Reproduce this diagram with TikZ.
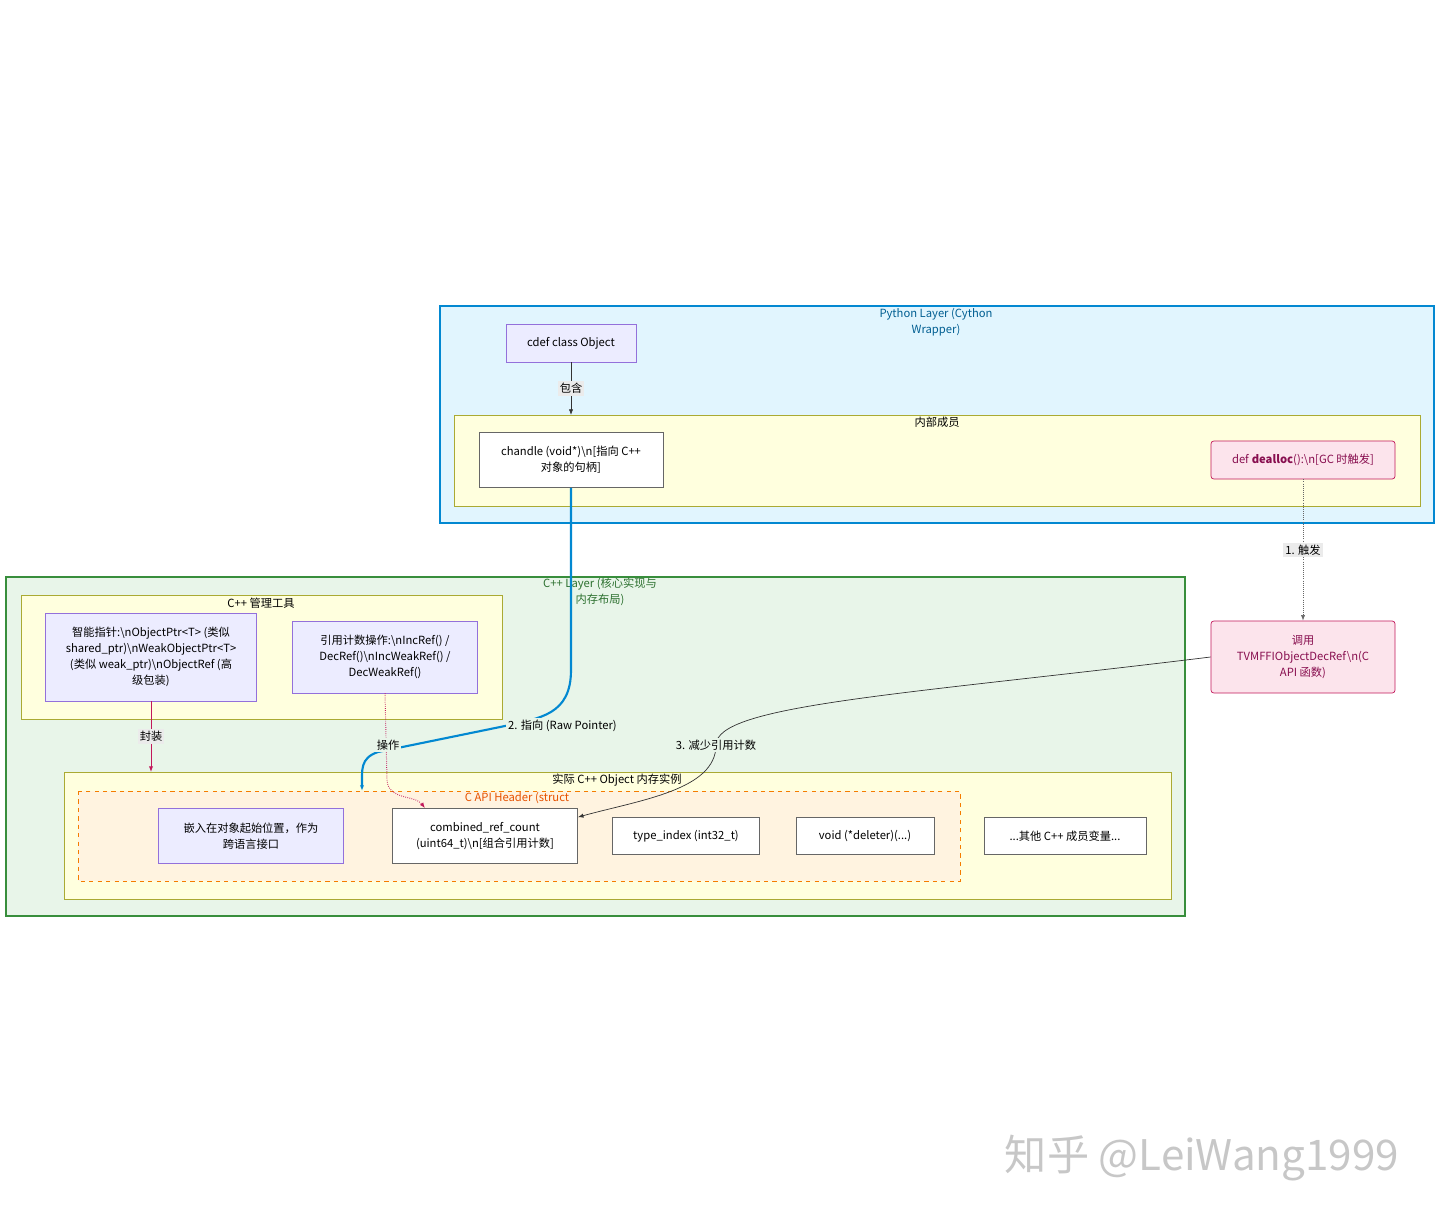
\documentclass[tikz,border=0pt]{standalone}
\usepackage{fontspec}
\setmainfont{Noto Sans CJK SC}
\usetikzlibrary{arrows.meta,positioning}

\definecolor{pyfill}{HTML}{E1F5FE}
\definecolor{pyline}{HTML}{0288D1}
\definecolor{cpfill}{HTML}{E8F5E9}
\definecolor{cpline}{HTML}{388E3C}
\definecolor{grpfill}{HTML}{FFFFDE}
\definecolor{grpline}{HTML}{AAAA33}
\definecolor{lavfill}{HTML}{ECECFF}
\definecolor{lavline}{HTML}{9370DB}
\definecolor{pkfill}{HTML}{FCE4EC}
\definecolor{pkline}{HTML}{C2185B}
\definecolor{pktext}{HTML}{880E4F}
\definecolor{orfill}{HTML}{FFF3E0}
\definecolor{orline}{HTML}{F57C00}
\definecolor{ortext}{HTML}{E65100}
\definecolor{crim}{HTML}{C2185B}

\tikzset{
  every node/.style={font=\fontsize{8}{11.5}\selectfont, align=center, inner sep=0pt},
  box/.style 2 args={draw, minimum width=#1*0.25mm, minimum height=#2*0.25mm, line width=0.5pt},
  lav/.style={fill=lavfill, draw=lavline},
  plain/.style={fill=white, draw=black!60},
  pink/.style={fill=pkfill, draw=pkline, rounded corners=2pt, text=pktext},
  grp/.style={fill=grpfill, draw=grpline, line width=0.5pt},
  lbl/.style={fill=black!8, inner sep=1.5pt},
  conn/.style={-{Latex[length=4pt,width=3pt]}, draw=black!80, line width=0.5pt},
}

\begin{document}
\begin{tikzpicture}[x=0.25mm, y=-0.25mm]
\useasboundingbox (0,0) rectangle (1440,1223);

% layers
\draw[fill=pyfill, draw=pyline, line width=1pt] (440,306) rectangle (1434,523);
\node[text=pyline!70!black] (pytitle) at (936,322) {Python Layer (Cython\\Wrapper)};
\draw[fill=cpfill, draw=cpline, line width=1pt] (6,577) rectangle (1185,916);
\node[text=cpline!80!black] (cptitle) at (600,592) {C++ Layer (核心实现与\\内存布局)};

% python side
\node[box={130}{38}, lav] (cdef) at (571,343) {cdef class Object};
\draw[grp] (454,415) rectangle (1420,506);
\node (members) at (937,422) {内部成员};
\coordinate (memtop) at (571,415);
\node[box={184}{55}, plain] (chandle) at (571,460) {chandle (void*)\textbackslash n[指向 C++\\对象的句柄]};
\node[box={184}{38}, pink] (dealloc) at (1303,460) {def \textbf{dealloc}():\textbackslash n[GC 时触发]};

% c++ side
\draw[grp] (21,595) rectangle (502,719);
\node (tools) at (261,603) {C++ 管理工具};
\node[box={211}{88}, lav] (smart) at (151,657) {智能指针:\textbackslash nObjectPtr<T> (类似\\shared\_ptr)\textbackslash nWeakObjectPtr<T>\\(类似 weak\_ptr)\textbackslash nObjectRef (高\\级包装)};
\node[box={185}{72}, lav] (refops) at (385,657) {引用计数操作:\textbackslash nIncRef() /\\DecRef()\textbackslash nIncWeakRef() /\\DecWeakRef()};
\node[box={184}{72}, pink] (decref) at (1303,657) {调用\\TVMFFIObjectDecRef\textbackslash n(C\\API 函数)};

\draw[grp] (64,772) rectangle (1171,899);
\node (inst) at (617,780) {实际 C++ Object 内存实例};
\coordinate (insttop) at (151,772);
\draw[fill=orfill, draw=orline, dashed, line width=0.7pt] (78,791) rectangle (960,881);
\node[text=ortext] (hdr) at (517,798) {C API Header (struct};
\coordinate (hdrtop) at (362,791);
\node[box={185}{55}, lav] (embed) at (251,836) {嵌入在对象起始位置，作为\\跨语言接口};
\node[box={185}{55}, plain] (combined) at (485,836) {combined\_ref\_count\\(uint64\_t)\textbackslash n[组合引用计数]};
\node[box={147}{37}, plain] (typeidx) at (686,836) {type\_index (int32\_t)};
\node[box={138}{37}, plain] (deleter) at (865,836) {void (*deleter)(...)};
\node[box={162}{37}, plain] (others) at (1065,836) {...其他 C++ 成员变量...};

% connectors
\draw[conn] (cdef) -- node[lbl] {包含} (memtop);
\draw[conn, densely dotted, draw=black!60] (dealloc) -- node[lbl, pos=0.5] {1. 触发} (decref);
\draw[conn, draw=crim, line width=0.7pt] (smart) -- node[lbl] {封装} (insttop);
\draw[conn, draw=crim, densely dotted, line width=0.7pt] (refops.south) -- (387,780)
  .. controls (388,800) and (415,795) .. ([xshift=-60*0.25mm]combined.north);
\draw[conn, draw=pyline, line width=1.5pt] (chandle.south) -- (571,670)
  .. controls (571,715) and (540,718) .. (505,726) node[lbl, anchor=west, text=black, fill=cpfill] {2. 指向 (Raw Pointer)}
  -- (378,752) .. controls (360,758) and (362,770) .. (hdrtop);
\node[lbl, fill=cpfill] (oplbl) at (388,745) {操作};
\draw[conn] (decref.west) .. controls (900,695) and (716,705) .. (716,745)
  node[lbl, fill=cpfill] {3. 减少引用计数}
  .. controls (716,790) and (640,800) .. ([yshift=-9*0.25mm]combined.north east);

% watermark
\node[text=black!22, font=\fontsize{30}{36}\selectfont] (mark) at (1202,1158) {知乎 @LeiWang1999};
\end{tikzpicture}
\end{document}
